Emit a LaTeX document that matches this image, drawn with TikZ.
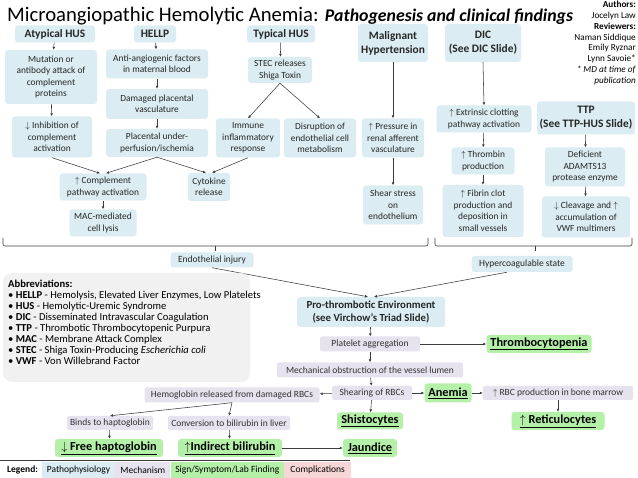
\documentclass[tikz,border=0pt]{standalone}
\usepackage{fontspec}
\setmainfont{Carlito}
\usetikzlibrary{arrows.meta,positioning}
\definecolor{pblue}{RGB}{219,237,243}
\definecolor{pmech}{RGB}{231,227,238}
\definecolor{pgreen}{RGB}{180,240,168}
\definecolor{pcomp}{RGB}{246,214,214}
\definecolor{pgrey}{RGB}{241,241,241}
\definecolor{lnk}{RGB}{60,60,60}
\newcommand\fbody{\fontsize{9.4}{11.5}\selectfont}
\newcommand\fsmall{\fontsize{9.5}{10.5}\selectfont}
\tikzset{
  pat/.style={fill=pblue,rounded corners=3pt,align=center,inner sep=1pt,font=\fbody,text=black!85},
  hdr/.style={pat,font=\fontsize{11.4}{14}\selectfont\bfseries},
  mec/.style={fill=pmech,rounded corners=2pt,align=center,inner sep=1pt,font=\fsmall,text=black!80},
  sgn/.style={fill=pgreen,rounded corners=3pt,align=center,inner sep=1pt,font=\fontsize{12.3}{13}\selectfont\bfseries},
  arr/.style={-{Latex[length=3pt,width=2.8pt]},draw=lnk,line width=0.55pt},
  brk/.style={draw=lnk,line width=0.6pt,rounded corners=2pt},
}

\begin{document}
\begin{tikzpicture}[x=1pt,y=-1pt]
  \fill[white] (0,0) rectangle (638,478);
  \useasboundingbox (0,0) rectangle (638,478);
  % title and authors
  \node[anchor=base west,inner sep=0pt,font=\fontsize{20.7}{22}\selectfont] (title) at (7,22)
    {Microangiopathic Hemolytic Anemia: {\fontsize{17.8}{22}\selectfont\textbf{\textit{Pathogenesis and clinical findings}}}};
  \node[anchor=north east,align=right,inner sep=0pt,font=\fontsize{9.2}{10.8}\selectfont] (auth) at (636,1)
    {\textbf{Authors:}\\Jocelyn Law\\\textbf{Reviewers:}\\Naman Siddique\\Emily Ryznar\\Lynn Savoie*\\\textit{* MD at time of}\\\textit{publication}};
  % upper half: causes
  \node[hdr,minimum width=80,minimum height=17] (ahus) at (55,34) {Atypical HUS};
  \node[hdr,minimum width=42,minimum height=17] (hellp) at (155,34) {HELLP};
  \node[hdr,minimum width=68,minimum height=17] (thus) at (281,34) {Typical HUS};
  \node[hdr,minimum width=70,minimum height=38] (mht) at (393,43) {Malignant\\Hypertension};
  \node[hdr,minimum width=76,minimum height=38] (dic) at (483,43) {DIC\\(See DIC Slide)};
  \node[pat,minimum width=92,minimum height=54] (mut) at (51,77) {Mutation or\\antibody attack of\\complement\\proteins};
  \node[pat,minimum width=80,minimum height=41] (inh) at (52,137) {$\downarrow$ Inhibition of\\complement\\activation};
  \node[pat,minimum width=102,minimum height=29] (anti) at (157,64) {Anti-angiogenic factors\\in maternal blood};
  \node[pat,minimum width=102,minimum height=30] (dam) at (157,104) {Damaged placental\\vasculature};
  \node[pat,minimum width=102,minimum height=28] (plac) at (157,143) {Placental under-\\perfusion/ischemia};
  \node[pat,minimum width=87,minimum height=27] (comp) at (103,187) {$\uparrow$ Complement\\pathway activation};
  \node[pat,minimum width=67,minimum height=27] (mac) at (103,223) {MAC-mediated\\cell lysis};
  \node[pat,minimum width=42,minimum height=28] (cyt) at (209,187) {Cytokine\\release};
  \node[pat,minimum width=64,minimum height=26] (stec) at (280,70) {STEC releases\\Shiga Toxin};
  \node[pat,minimum width=64,minimum height=39] (imm) at (248,138) {Immune\\inflammatory\\response};
  \node[pat,minimum width=72,minimum height=39] (disr) at (320,138) {Disruption of\\endothelial cell\\metabolism};
  \node[pat,minimum width=62,minimum height=39] (pres) at (393,138) {$\uparrow$ Pressure in\\renal afferent\\vasculature};
  \node[pat,minimum width=60,minimum height=39] (shst) at (393,205) {Shear stress\\on\\endothelium};
  \node[pat,minimum width=95,minimum height=27] (extr) at (484,119) {$\uparrow$ Extrinsic clotting\\pathway activation};
  \node[pat,minimum width=63,minimum height=27] (thr) at (483,161) {$\uparrow$ Thrombin\\production};
  \node[pat,minimum width=81,minimum height=52] (fib) at (483,211) {$\uparrow$ Fibrin clot\\production and\\deposition in\\small vessels};
  \node[hdr,minimum width=98,minimum height=33] (ttp) at (586,118) {TTP\\(See TTP-HUS Slide)};
  \node[pat,minimum width=80,minimum height=39] (defi) at (585,167) {Deficient\\ADAMTS13\\protease enzyme};
  \node[pat,minimum width=88,minimum height=41] (clv) at (586,217) {$\downarrow$ Cleavage and $\uparrow$\\accumulation of\\VWF multimers};
  \draw[arr] (ahus) -- (mut);
  \draw[arr] (mut) -- (inh);
  \draw[arr] (hellp) -- (anti);
  \draw[arr] (anti) -- (dam);
  \draw[arr] (dam) -- (plac);
  \draw[arr] (inh.south) -- ([xshift=-3]comp.north);
  \draw[arr] (plac.south) -- ([xshift=3]comp.north);
  \draw[arr] (plac.south) -- ([xshift=-3]cyt.north);
  \draw[arr] (imm.south) -- ([xshift=3]cyt.north);
  \draw[arr] (comp) -- (mac);
  \draw[arr] (thus) -- (stec);
  \draw[arr] (stec.south) -- (imm.north);
  \draw[arr] (stec.south) -- (disr.north);
  \draw[arr] (mht) -- (pres);
  \draw[arr] (pres) -- (shst);
  \draw[arr] (dic.south) -- (extr.north);
  \draw[arr] (extr) -- (thr);
  \draw[arr] (thr) -- (fib);
  \draw[arr] (ttp) -- (defi);
  \draw[arr] (defi) -- (clv);
  % brackets
  \draw[brk] (3,238) -- (3,246) -- (428,246) -- (428,238);
  \draw[brk] (435,238) -- (435,246) -- (632,246) -- (632,238);
  \coordinate (bk1) at (215,251);
  \coordinate (bk2) at (535,251);
  \draw[draw=lnk,line width=0.6pt] (215,246) -- (bk1);
  \draw[draw=lnk,line width=0.6pt] (535,246) -- (bk2);
  % lower half: mechanism and findings
  \node[pat,font=\fsmall,minimum width=83,minimum height=15] (endo) at (212,260) {Endothelial injury};
  \node[pat,font=\fsmall,minimum width=101,minimum height=16] (hyper) at (522,264) {Hypercoagulable state};
  \node[hdr,font=\fontsize{10.8}{13}\selectfont\bfseries,minimum width=148,minimum height=30] (pro) at (371,312) {Pro-thrombotic Environment\\(see Virchow's Triad Slide)};
  \node[mec,minimum width=100,minimum height=15] (plt) at (370,344) {Platelet aggregation};
  \node[sgn,minimum width=105,minimum height=18] (thromb) at (539,344) {\underline{Thrombocytopenia}};
  \node[mec,minimum width=186,minimum height=15] (mecho) at (370,370) {Mechanical obstruction of the vessel lumen};
  \node[mec,minimum width=80,minimum height=14] (shr) at (372,393) {Shearing of RBCs};
  \node[sgn,minimum width=47,minimum height=19] (anem) at (448,393) {\underline{Anemia}};
  \node[mec,minimum width=150,minimum height=14] (rbcp) at (558,393) {$\uparrow$ RBC production in bone marrow};
  \node[sgn,minimum width=66,minimum height=17] (shis) at (370,421) {\underline{Shistocytes}};
  \node[sgn,minimum width=93,minimum height=18] (retic) at (558,421) {\underline{$\uparrow$ Reticulocytes}};
  \node[sgn,minimum width=54,minimum height=18] (jaun) at (370,448) {\underline{Jaundice}};
  \node[mec,minimum width=175,minimum height=15] (hemo) at (232,395) {Hemoglobin released from damaged RBCs};
  \node[mec,minimum width=86,minimum height=14] (binds) at (110,423) {Binds to haptoglobin};
  \node[mec,minimum width=122,minimum height=14] (conv) at (229,423) {Conversion to bilirubin in liver};
  \node[sgn,minimum width=108,minimum height=18] (freeh) at (109,448) {\underline{$\downarrow$ Free haptoglobin}};
  \node[sgn,minimum width=104,minimum height=18] (indb) at (230,448) {\underline{$\uparrow$Indirect bilirubin}};
  \draw[arr] (endo.south) -- ([xshift=-3]pro.north);
  \draw[arr] ([xshift=-15]hyper.south) -- ([xshift=3]pro.north);
  \draw[arr] (pro) -- (plt);
  \draw[arr] (plt) -- (thromb);
  \draw[arr] (plt) -- (mecho);
  \draw[arr] (mecho) -- (shr);
  \draw[arr] (shr) -- (anem);
  \draw[arr] (anem) -- (rbcp);
  \draw[arr] (rbcp) -- (retic);
  \draw[arr] (shr) -- (shis);
  \draw[arr] (shr) -- (hemo);
  \draw[arr] (hemo.south) -- (binds.north);
  \draw[arr] (hemo.south) -- (conv.north);
  \draw[arr] (binds) -- (freeh);
  \draw[arr] (conv) -- (indb);
  \draw[arr] (indb) -- (jaun);
  % abbreviations
  \fill[pgrey,rounded corners=9pt] (3,273) rectangle (250,382);
  \node[anchor=north west,align=left,inner sep=0pt,font=\fontsize{10.6}{11}\selectfont] (abbr) at (8,280)
    {\textbf{Abbreviations:}\\
     \textbullet\ \textbf{HELLP} - Hemolysis, Elevated Liver Enzymes, Low Platelets\\
     \textbullet\ \textbf{HUS} - Hemolytic-Uremic Syndrome\\
     \textbullet\ \textbf{DIC} - Disseminated Intravascular Coagulation\\
     \textbullet\ \textbf{TTP} - Thrombotic Thrombocytopenic Purpura\\
     \textbullet\ \textbf{MAC} - Membrane Attack Complex\\
     \textbullet\ \textbf{STEC} - Shiga Toxin-Producing \textit{Escherichia coli}\\
     \textbullet\ \textbf{VWF} - Von Willebrand Factor};
  % legend
  \draw[draw=lnk,line width=0.6pt] (0,460) -- (350,460);
  \node[anchor=west,inner sep=0pt,font=\fsmall\bfseries] (leg) at (7,470) {Legend:};
  \node[fill=pblue,font=\fsmall,minimum width=73,minimum height=16,inner sep=0pt] (lg1) at (78.5,470) {Pathophysiology};
  \node[fill=pmech,font=\fsmall,minimum width=55,minimum height=16,inner sep=0pt,right=0pt of lg1] (lg2) {Mechanism};
  \node[fill=pgreen,font=\fsmall,minimum width=113,minimum height=16,inner sep=0pt,right=0pt of lg2] (lg3) {Sign/Symptom/Lab Finding};
  \node[fill=pcomp,font=\fsmall,minimum width=67,minimum height=16,inner sep=0pt,right=0pt of lg3] (lg4) {Complications};
\end{tikzpicture}
\end{document}
